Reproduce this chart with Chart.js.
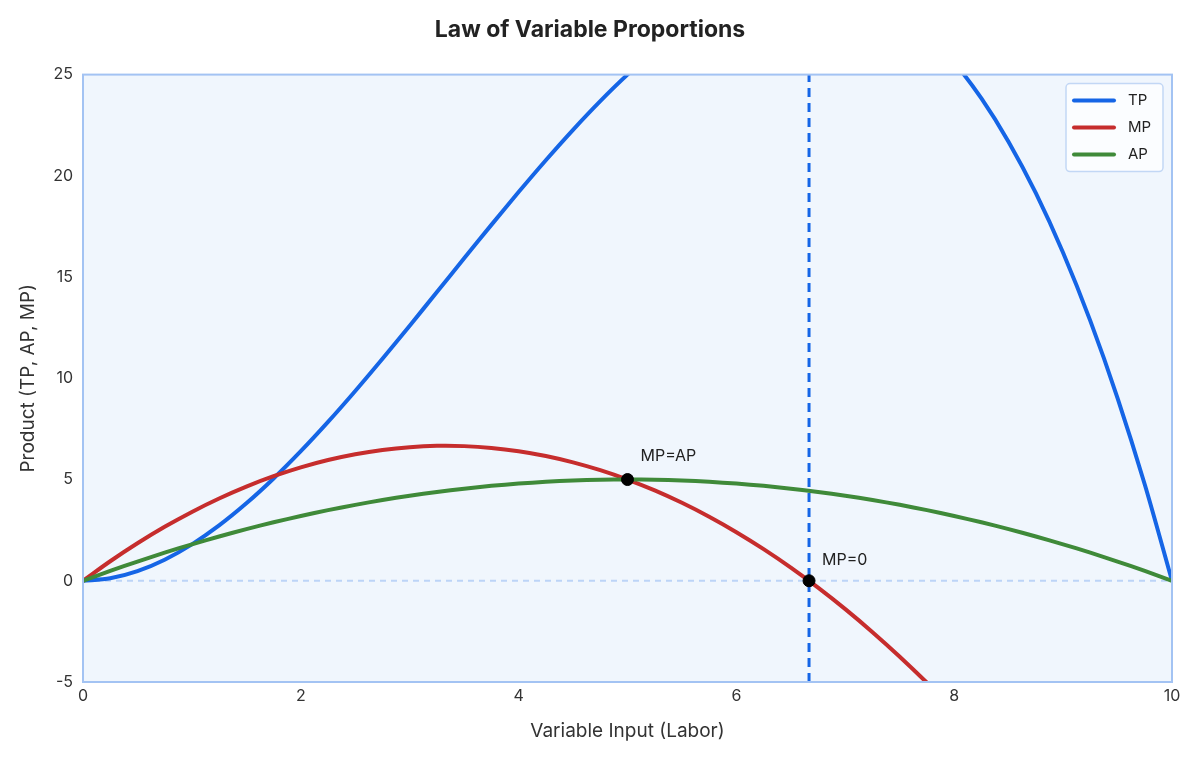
<!DOCTYPE html>
<html>
<head>
<meta charset="utf-8">
<script src="https://cdn.jsdelivr.net/npm/chart.js@4/dist/chart.umd.min.js"></script>
<style>
html, body { margin: 0; padding: 0; background: #ffffff; }
#wrap { width: 1200px; height: 760px; }
</style>
</head>
<body>
<div id="wrap"><canvas id="lawChart" width="1200" height="760"></canvas></div>
<script>
// labour input and the three product curves
const laborX = [0, 0.25, 0.5, 0.75, 1, 1.25, 1.5, 1.75, 2, 2.25, 2.5, 2.75, 3, 3.25, 3.5, 3.75, 4, 4.25, 4.5, 4.75,
  5, 5.25, 5.5, 5.75, 6, 6.25, 6.5, 6.75, 7, 7.25, 7.5, 7.75, 8, 8.25, 8.5, 8.75, 9, 9.25, 9.5, 9.75, 10]
const tpValues = [0, 0.122, 0.475, 1.041, 1.8, 2.734, 3.825, 5.053, 6.4, 7.847, 9.375, 10.966, 12.6, 14.259, 15.925, 17.578, 19.2, 20.772, 22.275, 23.691,
  25, 26.184, 27.225, 28.103, 28.8, 29.297, 29.575, 29.616, 29.4, 28.909, 28.125, 27.028, 25.6, 23.822, 21.675, 19.141, 16.2, 12.834, 9.025, 4.753, 0]
const mpValues = [0, 0.963, 1.85, 2.663, 3.4, 4.063, 4.65, 5.163, 5.6, 5.963, 6.25, 6.463, 6.6, 6.663, 6.65, 6.563, 6.4, 6.163, 5.85, 5.463,
  5, 4.463, 3.85, 3.163, 2.4, 1.563, 0.65, -0.338, -1.4, -2.538, -3.75, -5.038, -6.4, -7.838, -9.35, -10.938, -12.6, -14.338, -16.15, -18.038, -20]
const apValues = [0, 0.488, 0.95, 1.388, 1.8, 2.188, 2.55, 2.888, 3.2, 3.488, 3.75, 3.988, 4.2, 4.388, 4.55, 4.688, 4.8, 4.888, 4.95, 4.988,
  5, 4.988, 4.95, 4.888, 4.8, 4.688, 4.55, 4.388, 4.2, 3.988, 3.75, 3.488, 3.2, 2.888, 2.55, 2.188, 1.8, 1.388, 0.95, 0.488, 0]

const keyPoints = [{ x: 5, y: 5, label: 'MP=AP' }, { x: 6.667, y: 0, label: 'MP=0' }]
const mpZeroX = 6.667

const xTicks = [0, 2, 4, 6, 8, 10]
const yTicks = [-5, 0, 5, 10, 15, 20, 25]

const seriesNames = ['TP', 'MP', 'AP']
const seriesColors = ['#1565e6', '#c62d2d', '#3f8a39']

const FONT = 'Inter, "Noto Sans", sans-serif'

function toPts(ys) {
  return laborX.map((x, i) => ({ x: x, y: ys[i] }))
}

const extras = {
  id: 'extras',
  beforeDatasetsDraw(chart) {
    const a = chart.chartArea, ctx = chart.ctx
    ctx.save()
    ctx.fillStyle = '#f0f6fd'
    ctx.fillRect(a.left, a.top, a.right - a.left, a.bottom - a.top)
    ctx.restore()
  },
  afterDatasetsDraw(chart) {
    const a = chart.chartArea, ctx = chart.ctx
    const xs = chart.scales.x, ys = chart.scales.y
    ctx.save()
    // frame
    ctx.strokeStyle = '#a3c3f3'
    ctx.lineWidth = 2
    ctx.strokeRect(a.left, a.top, a.right - a.left, a.bottom - a.top)

    // point labels
    ctx.fillStyle = '#222'
    ctx.font = '16px ' + FONT
    ctx.textBaseline = 'middle'
    ctx.textAlign = 'left'
    keyPoints.forEach(p => {
      ctx.fillText(p.label, xs.getPixelForValue(p.x) + 13, ys.getPixelForValue(p.y) - (p.y === 0 ? 21 : 23))
    })

    // legend box
    const bx = a.right - 106, by = a.top + 9, bw = 97, bh = 88
    ctx.fillStyle = 'rgba(255,255,255,0.75)'
    ctx.strokeStyle = '#c2d7f5'
    ctx.lineWidth = 1.5
    ctx.beginPath()
    ctx.roundRect(bx, by, bw, bh, 4)
    ctx.fill()
    ctx.stroke()
    ctx.font = '15px ' + FONT
    seriesNames.forEach((name, i) => {
      const yy = by + 17 + i * 27
      ctx.strokeStyle = seriesColors[i]
      ctx.lineWidth = 4
      ctx.lineCap = 'round'
      ctx.beginPath()
      ctx.moveTo(bx + 8, yy)
      ctx.lineTo(bx + 48, yy)
      ctx.stroke()
      ctx.fillStyle = '#222'
      ctx.fillText(name, bx + 62, yy)
    })
    ctx.restore()
  }
}

new Chart(document.getElementById('lawChart'), {
  type: 'line',
  data: {
    datasets: [
      {
        label: 'points',
        data: keyPoints.map(p => ({ x: p.x, y: p.y })),
        showLine: false,
        pointRadius: 6,
        pointBackgroundColor: '#000',
        pointBorderColor: '#000',
        clip: false
      },
      {
        label: seriesNames[2],
        data: toPts(apValues),
        borderColor: seriesColors[2],
        borderWidth: 4,
        pointRadius: 0,
        tension: 0.3
      },
      {
        label: seriesNames[1],
        data: toPts(mpValues),
        borderColor: seriesColors[1],
        borderWidth: 4,
        pointRadius: 0,
        tension: 0.3
      },
      {
        label: seriesNames[0],
        data: toPts(tpValues),
        borderColor: seriesColors[0],
        borderWidth: 4,
        pointRadius: 0,
        tension: 0.3
      },
      {
        label: 'MP=0 line',
        data: [{ x: mpZeroX, y: -5 }, { x: mpZeroX, y: 25 }],
        borderColor: '#1565e6',
        borderWidth: 3,
        borderDash: [9, 6],
        pointRadius: 0
      },
      {
        label: 'zero',
        data: [{ x: 0, y: 0 }, { x: 10, y: 0 }],
        borderColor: '#bcd4f7',
        borderWidth: 1.8,
        borderDash: [6, 5],
        pointRadius: 0
      }
    ]
  },
  options: {
    responsive: false,
    animation: false,
    layout: { padding: { left: 8, right: 28, bottom: 8 } },
    plugins: {
      legend: { display: false },
      tooltip: { enabled: false },
      title: {
        display: true,
        text: 'Law of Variable Proportions',
        color: '#222',
        font: { family: FONT, size: 23, weight: 'bold' },
        padding: { top: 16, bottom: 31 }
      }
    },
    scales: {
      x: {
        type: 'linear',
        min: 0,
        max: 10,
        afterBuildTicks: s => { s.ticks = xTicks.map(v => ({ value: v })) },
        afterFit: s => { s.height = 760 - 682 - 8 },
        ticks: { color: '#333', font: { family: FONT, size: 16 }, padding: 5 },
        grid: { color: 'rgba(170,185,210,0.35)', tickLength: 0, lineWidth: 1 },
        border: { display: false, dash: [2, 4] },
        title: {
          display: true,
          text: 'Variable Input (Labor)',
          color: '#333',
          font: { family: FONT, size: 19 },
          padding: { top: 4, bottom: 9.5 }
        }
      },
      y: {
        min: -5,
        max: 25,
        afterBuildTicks: s => { s.ticks = yTicks.map(v => ({ value: v })) },
        afterFit: s => { s.width = 83 - 8 },
        ticks: { color: '#333', font: { family: FONT, size: 16 }, padding: 10 },
        grid: { color: 'rgba(170,185,210,0.35)', tickLength: 0, lineWidth: 1 },
        border: { display: false, dash: [2, 4] },
        title: {
          display: true,
          text: 'Product (TP, AP, MP)',
          color: '#333',
          font: { family: FONT, size: 19 },
          padding: { top: 8.5, bottom: 4 }
        }
      }
    }
  },
  plugins: [extras]
})
</script>
</body>
</html>
